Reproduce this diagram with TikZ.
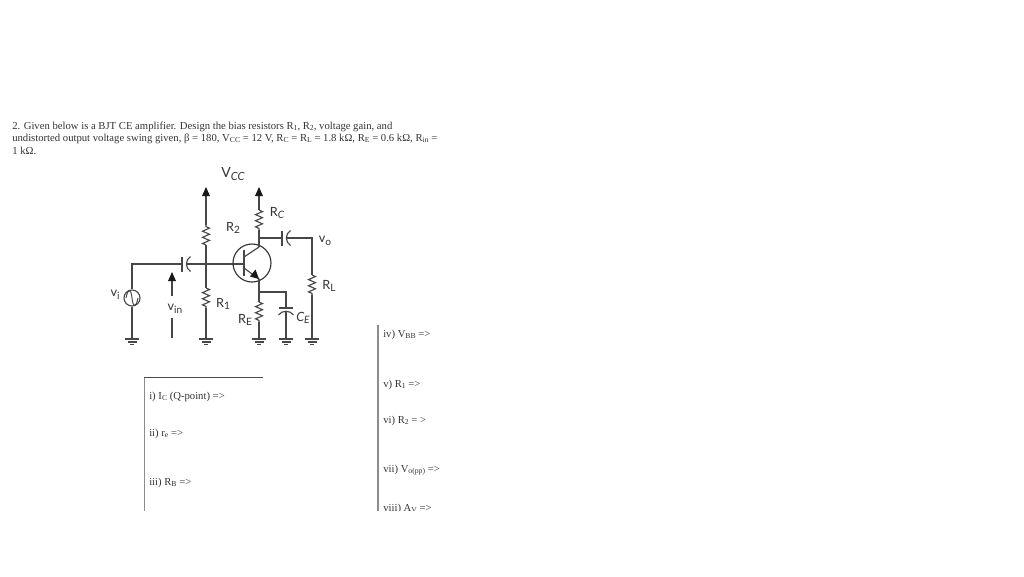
\documentclass[tikz,border=0pt]{standalone}
\usepackage{fontspec}
\setmainfont{Liberation Serif}
\newfontfamily\lblfont{Lato}
\usetikzlibrary{decorations.pathmorphing}
\newcommand{\sbs}[1]{\raisebox{-0.12em}{\scalebox{0.72}{#1}}}
\newcommand{\lsb}[1]{\raisebox{-0.2em}{\scalebox{0.8}{#1}}}
\tikzset{
  x=0.75pt,y=-0.75pt,
  wire/.style={line width=0.85pt,draw=black!72},
  res/.style={wire,decorate,decoration={zigzag,amplitude=2.6pt,segment length=4.6pt}},
  txt/.style={anchor=base west,inner sep=0pt,font=\fontsize{8pt}{9pt}\selectfont,text=black!80},
  lbl/.style={inner sep=0pt,font=\lblfont\fontsize{9.5pt}{10pt}\selectfont,text=black!80},
  rule/.style={line width=0.9pt,draw=black!45},
  tip/.style={fill=black!90,draw=none},
  gnd/.pic={\draw[wire] (-7,0) -- (7,0) (-4.5,3) -- (4.5,3) (-2,5.5) -- (2,5.5);}
}
\begin{document}
\begin{tikzpicture}
\useasboundingbox (0,0) rectangle (1024,576);
% question text
\node[txt] (q1) at (12,129) {2. Given below is a BJT CE amplifier. Design the bias resistors R\sbs{1}, R\sbs{2}, voltage gain, and};
\node[txt] (q2) at (12,141) {undistorted output voltage swing given, β = 180, V\sbs{CC} = 12 V, R\sbs{C} = R\sbs{L} = 1.8 kΩ, R\sbs{E} = 0.6 kΩ, R\sbs{in} =};
\node[txt] (q3) at (12,154) {1 kΩ.};
% coordinates
\coordinate (vs) at (132,264);
\coordinate (c1a) at (182,264);
\coordinate (c1b) at (187,264);
\coordinate (bn) at (206,264);
\coordinate (bb) at (244,264);
\coordinate (a1) at (206,187);
\coordinate (r2t) at (206,225);
\coordinate (r2b) at (206,245);
\coordinate (r1t) at (206,288);
\coordinate (r1b) at (206,308);
\coordinate (g1) at (206,339);
\coordinate (g0) at (132,339);
\coordinate (a2) at (259,187);
\coordinate (rct) at (259,210);
\coordinate (rcb) at (259,230);
\coordinate (cn) at (259,238);
\coordinate (ct) at (259,247);
\coordinate (cb) at (244,257);
\coordinate (et) at (259,279);
\coordinate (eb) at (244,268);
\coordinate (en) at (259,292);
\coordinate (ret) at (259,302);
\coordinate (reb) at (259,322);
\coordinate (g2) at (259,339);
\coordinate (cer) at (286,292);
\coordinate (cep) at (286,308);
\coordinate (ceq) at (286,311);
\coordinate (g3) at (286,339);
\coordinate (c2a) at (282,238);
\coordinate (c2b) at (287,238);
\coordinate (otr) at (312,238);
\coordinate (rlt) at (312,275);
\coordinate (rlb) at (312,295);
\coordinate (g4) at (312,339);
% input
\node[circle,draw=black!72,line width=0.85pt,minimum size=12pt,inner sep=0pt] (src) at (132,298) {};
\draw[wire] (src.north) -- (vs) -- (c1a);
\draw[wire] (src.south) -- (g0);
\draw[wire,line width=0.7pt] (126,298) .. controls (128,288) and (131,288) .. (132,298) .. controls (133,308) and (136,308) .. (138,298);
\pic at (g0) {gnd};
\draw[wire] (c1a) ++(0,-7.5) -- ++(0,15);
\draw[wire] (190.5,256.5) .. controls (185,260) and (185,268) .. (190.5,271.5);
\draw[wire] (c1b) -- (bn) -- (bb);
% bias
\draw[wire] (bn) -- (r2b);
\draw[res] (r2b) -- (r2t);
\draw[wire] (r2t) -- (206,195);
\fill[tip] (a1) -- (202,196) -- (210,196) -- cycle;
\draw[wire] (bn) -- (r1t);
\draw[res] (r1t) -- (r1b);
\draw[wire] (r1b) -- (g1);
\pic at (g1) {gnd};
% transistor
\node[circle,draw=black!80,line width=0.85pt,minimum size=28.5pt,inner sep=0pt] (q) at (252,263) {};
\draw[wire,line width=1pt] (244,250) -- (244,276);
\draw[wire] (cb) -- (ct);
\draw[wire] (eb) -- (et);
\fill[tip] (et) -- (250,276.5) -- (255.5,269.5) -- cycle;
% collector
\draw[wire] (a2) ++(0,8) -- (rct);
\fill[tip] (a2) -- (255,196) -- (263,196) -- cycle;
\draw[res] (rct) -- (rcb);
\draw[wire] (rcb) -- (ct);
\draw[wire] (cn) -- (c2a);
\draw[wire] (c2a) ++(0,-7.5) -- ++(0,15);
\draw[wire] (290.5,230.5) .. controls (285,234) and (285,242) .. (290.5,245.5);
\draw[wire] (c2b) -- (otr) -- (rlt);
\draw[res] (rlt) -- (rlb);
\draw[wire] (rlb) -- (g4);
\pic at (g4) {gnd};
% emitter
\draw[wire] (et) -- (ret);
\draw[res] (ret) -- (reb);
\draw[wire] (reb) -- (g2);
\pic at (g2) {gnd};
\draw[wire] (en) -- (cer) -- (cep);
\draw[wire] (279,308) -- (293,308);
\draw[wire] (278.5,315) .. controls (282,310) and (290,310) .. (293.5,315);
\draw[wire] (ceq) -- (g3);
\pic at (g3) {gnd};
% vin marker
\coordinate (va) at (172,272);
\coordinate (vm) at (172,296);
\coordinate (vl) at (172,318);
\coordinate (vk) at (172,338);
\draw[wire] (172,280) -- (vm);
\fill[tip] (va) -- (168,281) -- (176,281) -- cycle;
\draw[wire] (vl) -- (vk);
% labels
\node[lbl,font=\lblfont\fontsize{10.5pt}{11pt}\selectfont] (lvcc) at (233,174) {V\lsb{\itshape CC}};
\node[lbl] (lr2) at (233,228) {R\lsb{2}};
\node[lbl] (lr1) at (223,304) {R\lsb{1}};
\node[lbl] (lvi) at (115,295) {v\lsb{i}};
\node[lbl] (lvin) at (175,309) {v\lsb{in}};
\node[lbl] (lrc) at (277,213) {R\lsb{\itshape C}};
\node[lbl] (lvo) at (325,241) {v\lsb{o}};
\node[lbl] (lrl) at (329,286) {R\lsb{L}};
\node[lbl] (lre) at (245,320) {R\lsb{E}};
\node[lbl] (lce) at (303,318) {\itshape C\lsb{E}};
% frames
\draw[rule] (144.5,377) -- (144.5,511);
\draw[line width=0.7pt,draw=black!70] (144,377) -- (263,377);
\draw[rule] (378,325) -- (378,511);
% answers
\node[txt] (a1t) at (149,399) {i) I\sbs{C} (Q-point) =>};
\node[txt] (a2t) at (149,436) {ii) r\sbs{e} =>};
\node[txt] (a3t) at (149,485) {iii) R\sbs{B} =>};
\node[txt] (a4t) at (383,337) {iv) V\sbs{BB} =>};
\node[txt] (a5t) at (383,387) {v) R\sbs{1} =>};
\node[txt] (a6t) at (383,423) {vi) R\sbs{2} = >};
\node[txt] (a7t) at (383,472) {vii) V\sbs{o(pp)} =>};
\begin{scope}
\clip (380,495) rectangle (470,510.5);
\node[txt] (a8t) at (383,511) {viii) A\sbs{V} =>};
\end{scope}
\end{tikzpicture}
\end{document}
